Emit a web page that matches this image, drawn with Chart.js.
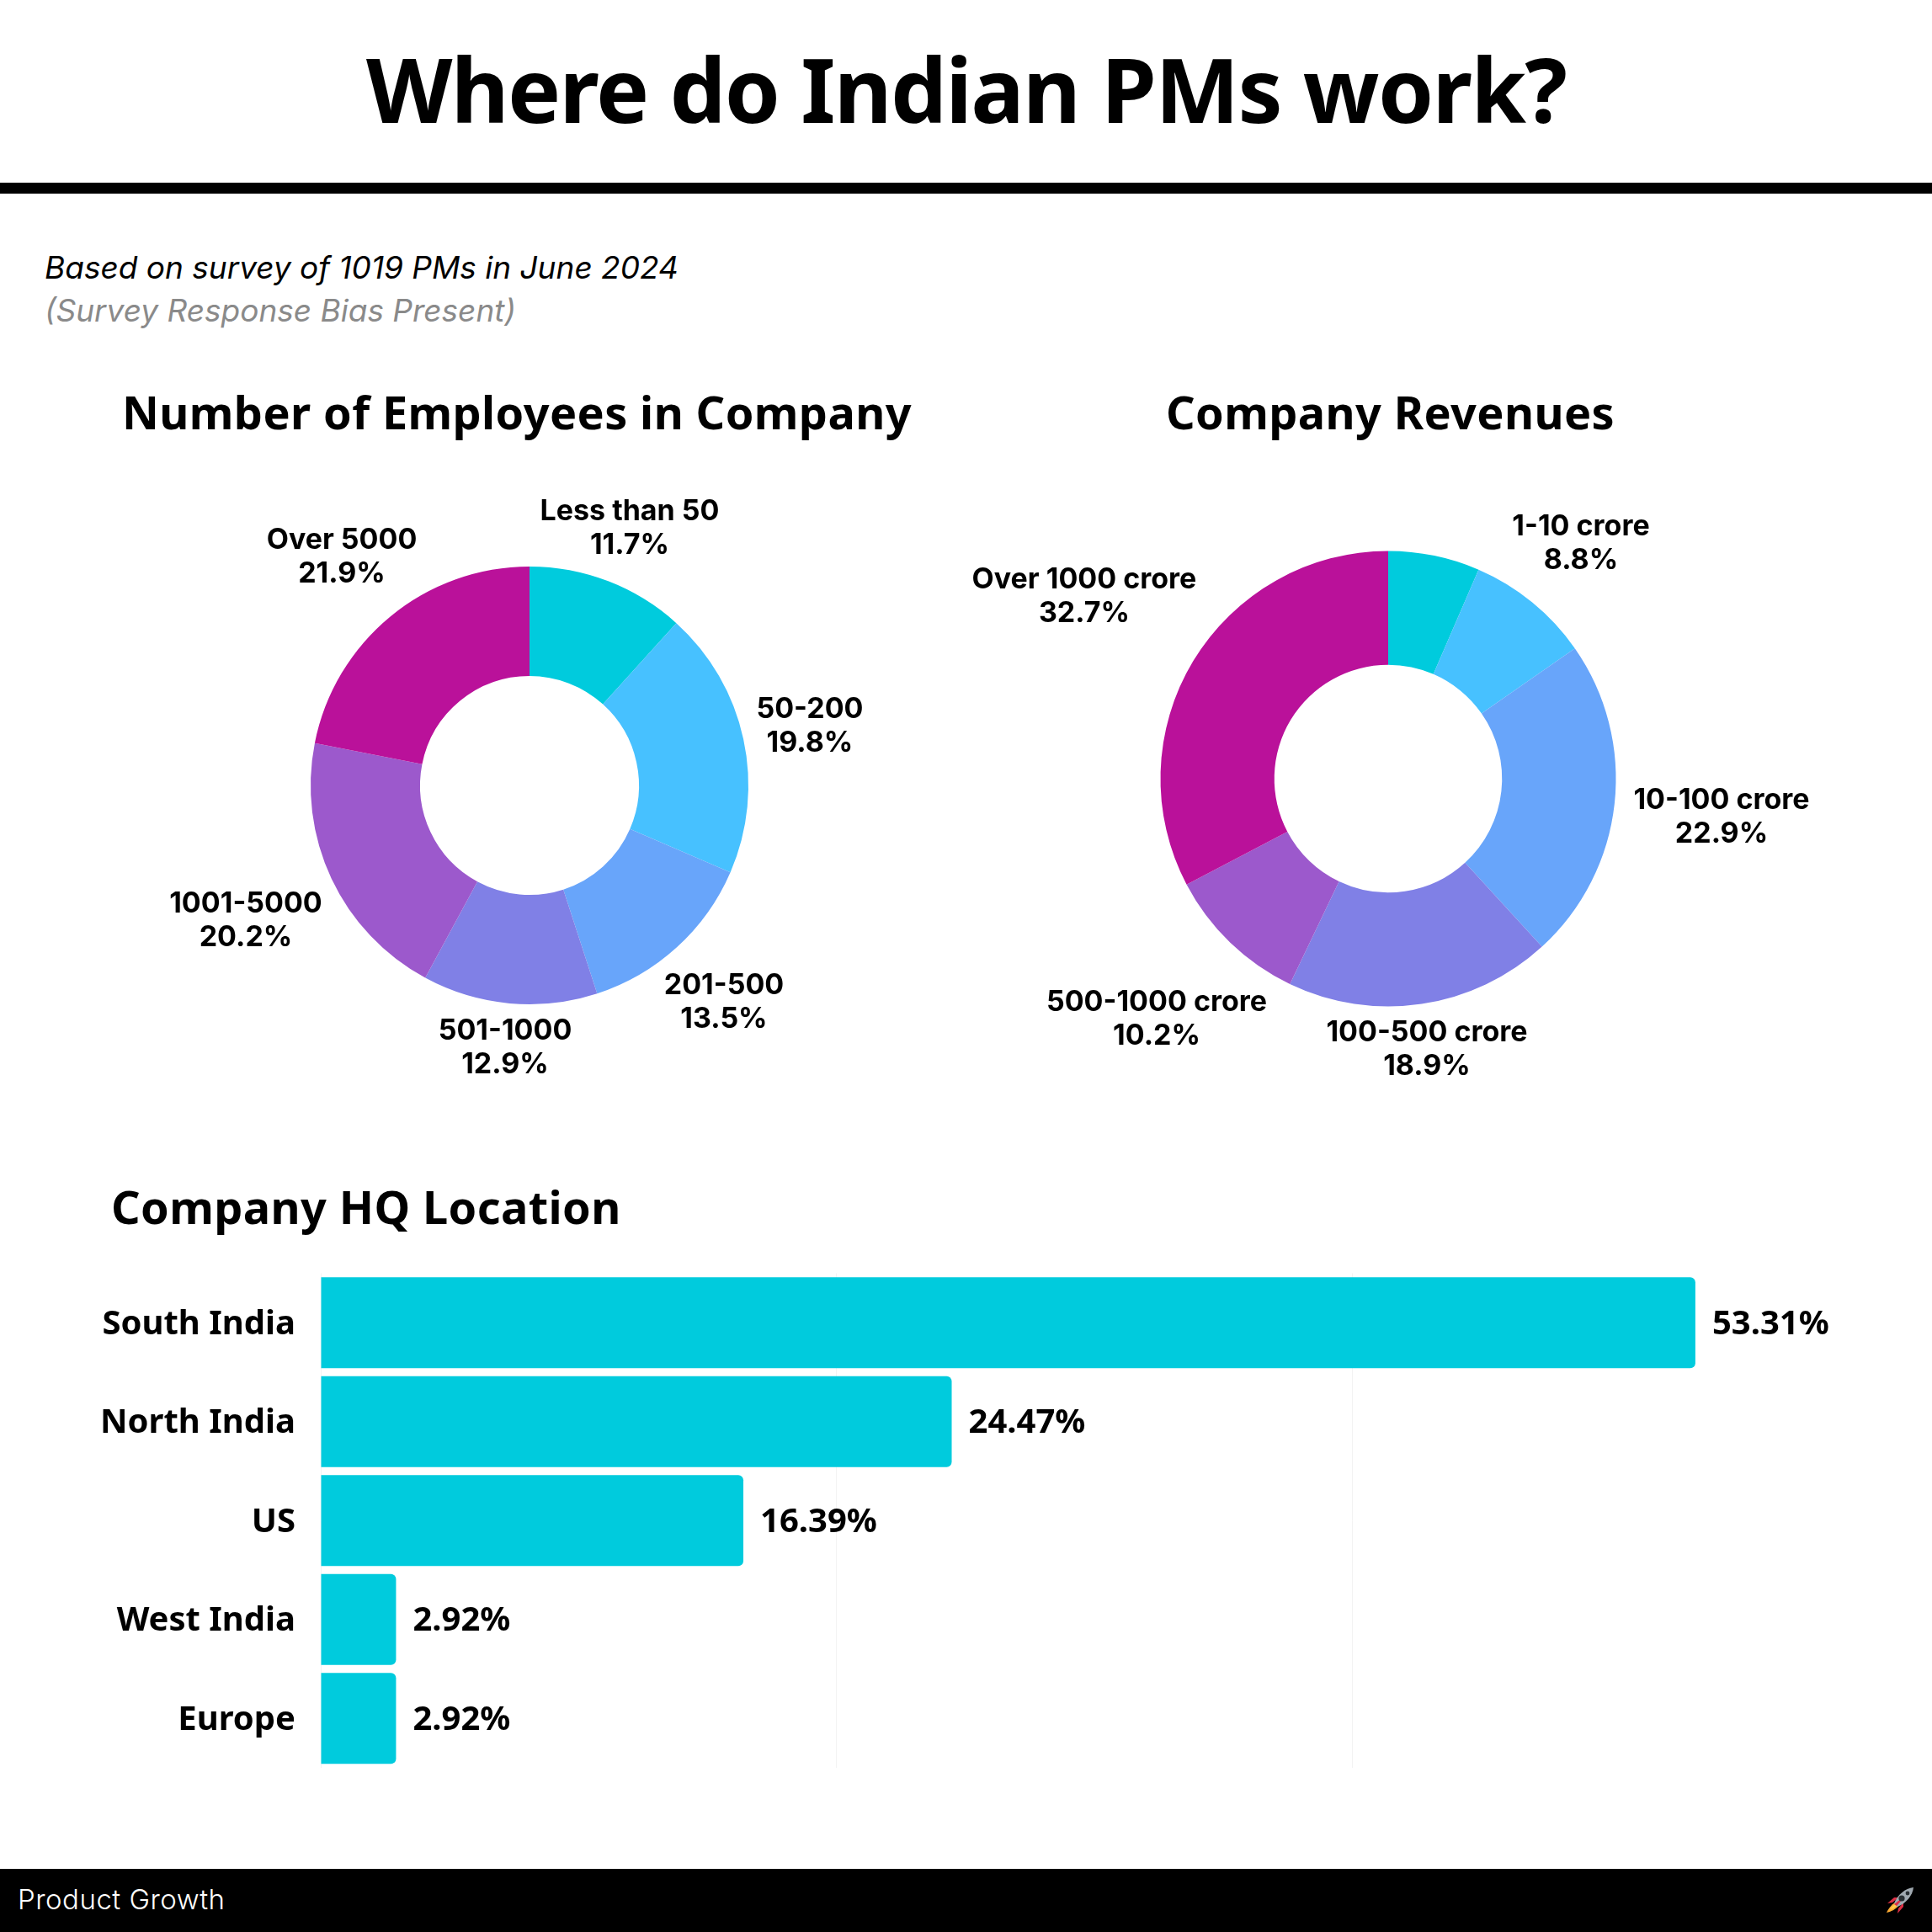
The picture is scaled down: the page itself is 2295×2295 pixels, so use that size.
<!DOCTYPE html>
<html>
<head>
<meta charset="utf-8">
<title>Where do Indian PMs work?</title>
<script src="https://cdn.jsdelivr.net/npm/chart.js@4"></script>
<style>
    html, body { margin: 0; padding: 0; background: #fff; }
    #page { position: relative; width: 2295px; height: 2295px; overflow: hidden; font-family: "Noto Sans", sans-serif; color: #000; }
    #page > * { position: absolute; margin: 0; white-space: nowrap; line-height: 1; }
    canvas { display: block; }
    h1 { left: 0; width: 2295px; text-align: center; top: 52px; font-size: 106px; font-weight: 700; letter-spacing: -1.7px; }
    h2 { font-size: 54px; font-weight: 700; letter-spacing: 0.4px; }
    .rule { left: 0; top: 217px; width: 2295px; height: 13px; background: #000; }
    .note { left: 53px; font-family: Inter, sans-serif; font-size: 37px; font-style: italic; }
    .footer { left: 0; top: 2220px; width: 2295px; height: 75px; background: #000; }
    .brand { left: 21px; top: 2240px; font-family: Inter, sans-serif; font-size: 33px; font-weight: 300; letter-spacing: 0.5px; color: #fff; }
    .rocket { left: 2240px; top: 2241px; width: 34px; height: 34px; }
</style>
</head>
<body>
<div id="page">
    <h1>Where do Indian PMs work?</h1>
    <div class="rule"></div>
    <p class="note" style="top: 299px">Based on survey of 1019 PMs in June 2024</p>
    <p class="note" style="top: 350px; color: #8a8a8a">(Survey Response Bias Present)</p>

    <h2 style="left: 145px; top: 462px">Number of Employees in Company</h2>
    <h2 style="left: 1385px; top: 462px">Company Revenues</h2>
    <h2 style="left: 132px; top: 1406px">Company HQ Location</h2>

    <canvas id="employees" width="1000" height="750" style="left: 100px; top: 560px"></canvas>
    <canvas id="revenues" width="1140" height="750" style="left: 1100px; top: 560px"></canvas>
    <canvas id="location" width="2295" height="630" style="left: 0; top: 1490px"></canvas>

    <div class="footer"></div>
    <div class="brand">Product Growth</div>
    <svg class="rocket" viewBox="0 0 34 34">
        <path d="M8 19 L2 20 L10 13 L15 13 Z" fill="#dd2e44"/>
        <path d="M15 26 L14 32 L21 24 L21 19 Z" fill="#dd2e44"/>
        <path d="M11 19 C6 22 3 27 1 31 C6 30 12 27 15 23 Z" fill="#ffac33"/>
        <path d="M11 21 C8 23 6 26 5 27 C8 27 11 25 13 23 Z" fill="#ffcc4d"/>
        <path d="M10 20 C14 10 23 2 33 1 C32 11 24 20 14 24 Z" fill="#a0a9b0"/>
        <path d="M10 21 L19 14 L20 15 L13 23 Z" fill="#dd2e44"/>
        <circle cx="19" cy="14" r="3.6" fill="#292f33"/>
        <circle cx="26" cy="8" r="2.4" fill="#292f33"/>
    </svg>
</div>

<script>
const employeeLabels = ["Less than 50", "50-200", "201-500", "501-1000", "1001-5000", "Over 5000"];
const employeeValues = [11.7, 19.8, 13.5, 12.9, 20.2, 21.9];

const revenueLabels = ["Under 1 crore", "1-10 crore", "10-100 crore", "100-500 crore", "500-1000 crore", "Over 1000 crore"];
const revenueValues = [6.5, 8.8, 22.9, 18.9, 10.2, 32.7];

const locationLabels = ["South India", "North India", "US", "West India", "Europe"];
const locationValues = [53.31, 24.47, 16.39, 2.92, 2.92];

const sliceColors = ["#00cbdd", "#47c1ff", "#68a5fa", "#8080e6", "#9c59cc", "#ba119a"];
const barColor = "#00cbdd";
const labelFont = '700 34px Inter';

// offset of each slice label from the ring centre (first baseline), null = no label
const employeeLabelOffsets = [[119, -315], [333, -80], [231, 248], [-29, 302], [-337, 151], [-223, -281]];
const revenueLabelOffsets = [null, [229, -289], [396, 36], [46, 312], [-275, 276], [-361, -226]];

// writes "name / value%" next to each slice
const sliceLabels = {
    id: "sliceLabels",
    afterDatasetsDraw(chart, args, opts) {
        const ctx = chart.ctx;
        const meta = chart.getDatasetMeta(0);
        ctx.save();
        ctx.font = labelFont;
        ctx.fillStyle = "#000";
        ctx.textAlign = "center";
        ctx.textBaseline = "alphabetic";
        meta.data.forEach((arc, i) => {
            const offset = opts.offsets[i];
            if (!offset) return;
            const x = arc.x + offset[0];
            const y = arc.y + offset[1];
            ctx.fillText(chart.data.labels[i], x, y);
            ctx.fillText(chart.data.datasets[0].data[i] + "%", x, y + 40);
        });
        ctx.restore();
    },
};

// value text at the end of each bar
const barValues = {
    id: "barValues",
    afterDatasetsDraw(chart) {
        const ctx = chart.ctx;
        ctx.save();
        ctx.font = '700 40px "Noto Sans"';
        ctx.fillStyle = "#000";
        ctx.textAlign = "left";
        ctx.textBaseline = "middle";
        chart.getDatasetMeta(0).data.forEach((bar, i) => {
            ctx.fillText(chart.data.datasets[0].data[i].toFixed(2) + "%", bar.x + 20, bar.y + 2);
        });
        ctx.restore();
    },
};

const createRing = (id, labels, values, offsets, padding) => {
    return new Chart(document.getElementById(id), {
        type: "doughnut",
        data: {
            labels: labels,
            datasets: [{ data: values, backgroundColor: sliceColors, borderWidth: 0 }],
        },
        options: {
            responsive: false,
            animation: false,
            cutout: "50%",
            layout: { padding: padding },
            plugins: {
                legend: { display: false },
                tooltip: { enabled: false },
                sliceLabels: { offsets: offsets },
            },
        },
        plugins: [sliceLabels],
    });
};

createRing("employees", employeeLabels, employeeValues, employeeLabelOffsets,
    { left: 269, right: 211, top: 113, bottom: 117 });
createRing("revenues", revenueLabels, revenueValues, revenueLabelOffsets,
    { left: 278.5, right: 320.5, top: 94.5, bottom: 114.5 });

new Chart(document.getElementById("location"), {
    type: "bar",
    data: {
        labels: locationLabels,
        datasets: [{
            data: locationValues,
            backgroundColor: barColor,
            categoryPercentage: 0.92,
            barPercentage: 1,
            borderRadius: { topLeft: 0, bottomLeft: 0, topRight: 6, bottomRight: 6 },
            borderSkipped: false,
        }],
    },
    options: {
        indexAxis: "y",
        responsive: false,
        animation: false,
        layout: { padding: { top: 22.5, bottom: 20, right: 229.35, left: 0 } },
        scales: {
            x: {
                min: 0,
                max: 55,
                grid: { color: "#f3f3f3", lineWidth: 1, drawTicks: false },
                border: { display: false },
                ticks: { display: false, stepSize: 20, includeBounds: false },
            },
            y: {
                grid: { display: false, drawTicks: false },
                border: { display: false },
                ticks: {
                    color: "#000",
                    padding: 30,
                    labelOffset: 2,
                    font: { family: "Noto Sans", size: 40, weight: 700 },
                },
                // fixed gutter for the names, no extra room above and below the bars
                afterFit(axis) {
                    axis.width = 381;
                    axis.paddingTop = 0;
                    axis.paddingBottom = 0;
                },
            },
        },
        plugins: {
            legend: { display: false },
            tooltip: { enabled: false },
        },
    },
    plugins: [barValues],
});
</script>
</body>
</html>
